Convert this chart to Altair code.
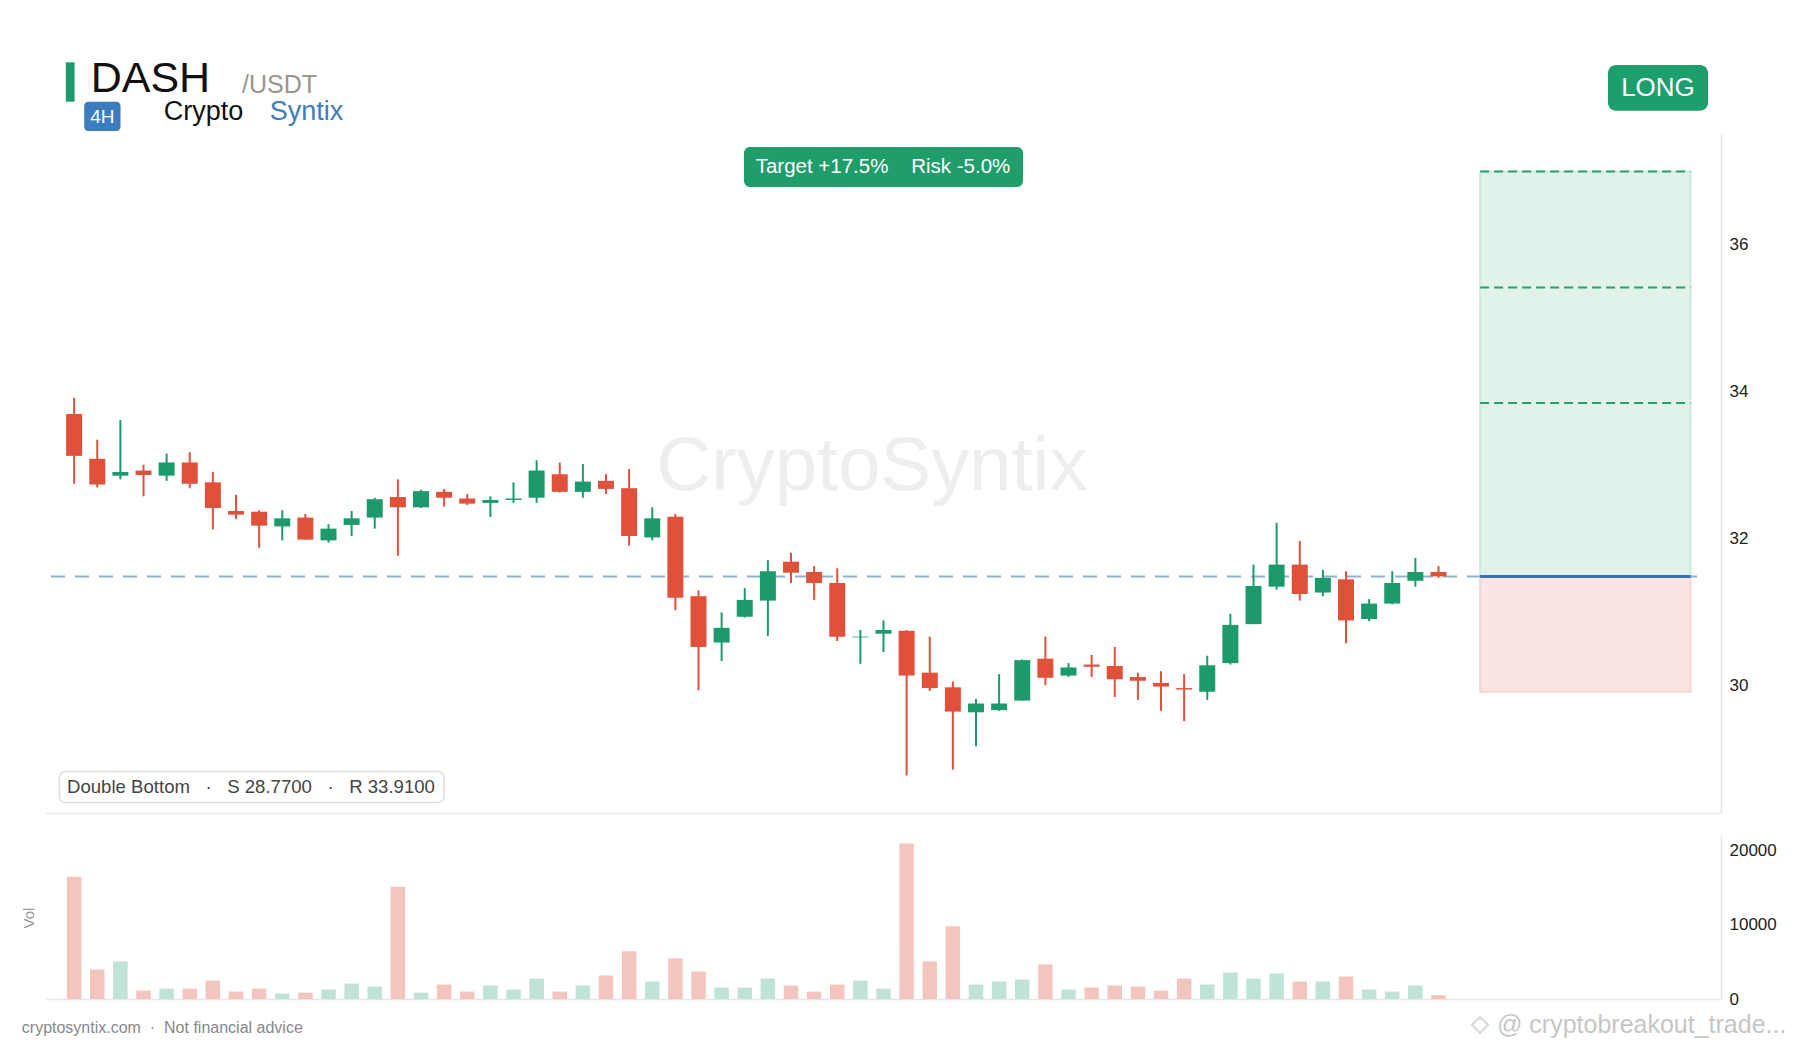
import altair as alt
import pandas as pd

# ---------------- data ----------------
opens = [33.69, 33.08, 32.85, 32.92, 32.85, 33.03, 32.76, 32.37, 32.36, 32.16,
         32.28, 31.97, 32.18, 32.28, 32.56, 32.42, 32.63, 32.54, 32.48, 32.52,
         32.55, 32.87, 32.63, 32.78, 32.68, 32.01, 32.29, 31.21, 30.58, 30.93,
         31.15, 31.68, 31.54, 31.39, 30.65, 30.70, 30.74, 30.17, 29.97, 29.63,
         29.66, 29.79, 30.36, 30.13, 30.28, 30.26, 30.11, 30.03, 29.96, 29.91,
         30.30, 30.83, 31.34, 31.64, 31.26, 31.44, 30.90, 31.11, 31.42, 31.54]
highs = [33.91, 33.34, 33.61, 33.00, 33.15, 33.17, 32.90, 32.59, 32.38, 32.38,
         32.33, 32.19, 32.37, 32.55, 32.80, 32.66, 32.67, 32.60, 32.57, 32.76,
         33.06, 33.03, 33.01, 32.87, 32.94, 32.42, 32.33, 31.29, 30.99, 31.32,
         31.70, 31.80, 31.62, 31.59, 30.75, 30.88, 30.75, 30.66, 30.05, 29.81,
         30.15, 30.35, 30.66, 30.30, 30.41, 30.52, 30.17, 30.19, 30.15, 30.40,
         30.97, 31.64, 32.21, 31.96, 31.57, 31.55, 31.17, 31.55, 31.73, 31.62]
lows = [32.74, 32.69, 32.80, 32.57, 32.78, 32.68, 32.12, 32.26, 31.87, 31.97,
        31.98, 31.94, 32.03, 32.13, 31.76, 32.41, 32.43, 32.45, 32.29, 32.48,
        32.48, 32.62, 32.55, 32.60, 31.90, 31.97, 31.02, 29.93, 30.33, 30.92,
        30.67, 31.39, 31.16, 30.60, 30.29, 30.45, 28.77, 29.92, 28.85, 29.17,
        29.65, 29.79, 30.00, 30.11, 30.11, 29.84, 29.80, 29.65, 29.51, 29.80,
        30.28, 30.83, 31.30, 31.15, 31.21, 30.57, 30.87, 31.10, 31.34, 31.46]
closes = [33.12, 32.73, 32.90, 32.86, 33.03, 32.74, 32.41, 32.32, 32.17, 32.27,
          31.98, 32.13, 32.27, 32.53, 32.42, 32.64, 32.55, 32.47, 32.52, 32.54,
          32.92, 32.63, 32.77, 32.67, 32.03, 32.27, 31.19, 30.52, 30.78, 31.16,
          31.55, 31.53, 31.39, 30.66, 30.66, 30.75, 30.13, 29.96, 29.64, 29.75,
          29.75, 30.34, 30.10, 30.24, 30.25, 30.08, 30.06, 29.98, 29.94, 30.27,
          30.82, 31.35, 31.64, 31.24, 31.46, 30.88, 31.11, 31.39, 31.54, 31.48]
volumes = [16470, 3980, 5070, 1130, 1400, 1400, 2490, 1000, 1400, 720,
           860, 1270, 2080, 1670, 15110, 860, 1950, 1000, 1810, 1270,
           2760, 1000, 1810, 3170, 6430, 2350, 5480, 3710, 1540, 1540,
           2760, 1810, 1000, 1950, 2490, 1400, 20950, 5070, 9820, 1950,
           2350, 2620, 4660, 1270, 1540, 1810, 1670, 1130, 2760, 1950,
           3570, 2760, 3440, 2350, 2350, 3030, 1270, 1000, 1810, 500]

entry_price = 31.48
stop_price = 29.91
target_prices = [33.84, 35.41, 36.99]   # TP1, TP2, final target
y_ticks_price = [30, 32, 34, 36]
y_ticks_vol = [0, 10000, 20000]

NB = "\u00a0"
symbol = "DASH"
quote = "/USDT"
timeframe = "4H"
side = "LONG"
target_text = "Target +17.5%" + NB * 4 + "Risk -5.0%"
pattern_text = ("Double Bottom" + NB * 3 + "\u00b7" + NB * 3 + "S 28.7700"
                + NB * 3 + "\u00b7" + NB * 3 + "R 33.9100")
footer_text = "cryptosyntix.com" + NB * 2 + "\u00b7" + NB * 2 + "Not financial advice"
credit_text = "@ cryptobreakout_trade..."

# ---------------- styling ----------------
FONT = "Liberation Sans"
GREEN = "#1c9a6b"
RED = "#e0513b"
VGREEN = "#bfe3d4"
VRED = "#f2c6be"
W = 1675
H_PRICE = 679
H_VOL = 164
X_DOM = [-1, 71]
ZX0, ZX1 = 60.8, 69.9

df = pd.DataFrame({"i": list(range(len(opens))), "o": opens, "h": highs,
                   "l": lows, "c": closes, "v": volumes})
df["dir"] = ["up" if c >= o else "down" for o, c in zip(opens, closes)]

xs = alt.Scale(domain=X_DOM, nice=False, zero=False)
ys = alt.Scale(domain=[28.26, 37.5], nice=False, zero=False)
vs = alt.Scale(domain=[0, 22100], nice=False)

x_axis = alt.Axis(labels=False, ticks=False, grid=False, title=None,
                  domainColor="#e6e6e6", domainWidth=1.5)
y_axis = alt.Axis(orient="right", values=y_ticks_price, format="d", ticks=False,
                  grid=False, title=None, labelPadding=8, labelFontSize=17,
                  labelColor="#222", labelFont=FONT, domainColor="#e6e6e6",
                  domainWidth=1.5)
v_axis = alt.Axis(orient="right", values=y_ticks_vol, format="d", ticks=False,
                  grid=False, title=None, labelPadding=8, labelFontSize=17,
                  labelColor="#222", labelFont=FONT, domainColor="#e6e6e6",
                  domainWidth=1.5)

one = pd.DataFrame({"k": [0]})
base1 = alt.Chart(one)

def txt(s, x, y, size, color, align="left", baseline="alphabetic", **kw):
    return base1.mark_text(text=s, font=FONT, fontSize=size, color=color,
                           align=align, baseline=baseline, **kw).encode(
        x=alt.value(x), y=alt.value(y))

def box(x0, x1, y0, y1, fill, radius=0, stroke=None, sw=0, opacity=1):
    kw = dict(fill=fill, cornerRadius=radius, opacity=opacity)
    if stroke:
        kw.update(stroke=stroke, strokeWidth=sw)
    return base1.mark_rect(**kw).encode(
        x=alt.value(x0), x2=alt.value(x1), y=alt.value(y0), y2=alt.value(y1))

# ---------------- price panel ----------------
anchor_top = box(-38, 1746, -126, 0, "#ffffff", opacity=0)

zones = pd.DataFrame({"x0": [ZX0, ZX0], "x1": [ZX1, ZX1],
                      "y0": [entry_price, stop_price],
                      "y1": [target_prices[-1], entry_price],
                      "kind": ["profit", "loss"]})
zone_layer = alt.Chart(zones).mark_rect(strokeWidth=2).encode(
    x=alt.X("x0:Q", scale=xs, axis=x_axis), x2="x1:Q",
    y=alt.Y("y0:Q", scale=ys, axis=y_axis), y2="y1:Q",
    fill=alt.Fill("kind:N", scale=alt.Scale(domain=["profit", "loss"],
                                            range=["#e0f2ea", "#fbe5e2"]), legend=None),
    stroke=alt.Stroke("kind:N", scale=alt.Scale(domain=["profit", "loss"],
                                                range=["#cfe9dd", "#f6d6d1"]), legend=None),
)

tp_df = pd.DataFrame({"tp": target_prices, "x0": ZX0, "x1": ZX1})
tp_layer = alt.Chart(tp_df).mark_rule(color="#2a9d6f", strokeWidth=2,
                                      strokeDash=[9, 5]).encode(
    x=alt.X("x0:Q", scale=xs), x2="x1:Q", y=alt.Y("tp:Q", scale=ys))

entry_df = pd.DataFrame({"e": [entry_price], "x0": [X_DOM[0]], "x1": [70.6],
                         "z0": [ZX0], "z1": [ZX1]})
entry_dash = alt.Chart(entry_df).mark_rule(color="#8fb1d4", strokeWidth=2,
                                           strokeDash=[14, 10]).encode(
    x=alt.X("x0:Q", scale=xs), x2="x1:Q", y=alt.Y("e:Q", scale=ys))
entry_solid = alt.Chart(entry_df).mark_rule(color="#3a6fb2", strokeWidth=3).encode(
    x=alt.X("z0:Q", scale=xs), x2="z1:Q", y=alt.Y("e:Q", scale=ys))

watermark = txt("CryptoSyntix", 826, 333, 76, "#eeeeee", align="center",
                baseline="middle")

color_dir = alt.Color("dir:N", scale=alt.Scale(domain=["up", "down"], range=[GREEN, RED]),
                      legend=None)
wicks = alt.Chart(df).mark_rule(strokeWidth=2).encode(
    x=alt.X("i:Q", scale=xs), y=alt.Y("l:Q", scale=ys), y2="h:Q", color=color_dir)
bodies = alt.Chart(df).mark_bar(size=16).encode(
    x=alt.X("i:Q", scale=xs), y=alt.Y("o:Q", scale=ys), y2="c:Q", color=color_dir)

target_box = box(698, 977, 13, 53, "#1f9d6b", radius=6)
target_lbl = txt(target_text, 837, 33, 20.5, "#ffffff", align="center", baseline="middle")

pattern_box = box(13.5, 398, 637.5, 668.5, "#ffffff", radius=6, stroke="#dddddd", sw=1.5)
pattern_lbl = txt(pattern_text, 21, 653, 18.6, "#444444", baseline="middle")

title_bar = box(19.8, 28.6, -71.7, -32.3, "#1e9b6c")
title_sym = txt(symbol, 44.7, -42, 43, "#111111")
title_quote = txt(quote, 196, -40.7, 25, "#9b958f")
tf_box = box(38.2, 74.5, -32.3, -3, "#3b7dbf", radius=4)
tf_lbl = txt(timeframe, 56.3, -17.5, 19, "#ffffff", align="center", baseline="middle")
brand1 = txt("Crypto", 117.8, -14, 27, "#111111")
brand2 = txt("Syntix", 223.8, -14, 27, "#3b7dbd")
long_box = box(1562, 1662, -69, -23.3, "#1e9e6c", radius=8)
long_lbl = txt(side, 1612, -46, 26, "#ffffff", align="center", baseline="middle")

price = alt.layer(
    anchor_top, zone_layer, watermark, tp_layer, entry_dash, entry_solid,
    wicks, bodies, target_box, target_lbl, pattern_box, pattern_lbl,
    title_bar, title_sym, title_quote, tf_box, tf_lbl, brand1, brand2,
    long_box, long_lbl,
).properties(width=W, height=H_PRICE)

# ---------------- volume panel ----------------
vol_bars = alt.Chart(df).mark_bar(size=14.5).encode(
    x=alt.X("i:Q", scale=xs, axis=x_axis),
    y=alt.Y("v:Q", scale=vs, axis=v_axis),
    color=alt.Color("dir:N", scale=alt.Scale(domain=["up", "down"], range=[VGREEN, VRED]),
                    legend=None),
)
vol_lbl = txt("Vol", -17.3, 83, 15, "#999999", align="center", baseline="middle",
              angle=270)
footer = txt(footer_text, -24.2, 193, 16, "#888888", baseline="middle")
credit = txt(credit_text, 1451, 190, 25, "#c6c6c6", baseline="middle")
credit_logo = base1.mark_point(shape="diamond", size=260, filled=False,
                               color="#c8c8c8", strokeWidth=2).encode(
    x=alt.value(1434), y=alt.value(190))
anchor_bot = box(-38, 1746, 0, 207, "#ffffff", opacity=0)

vol = alt.layer(anchor_bot, vol_bars, vol_lbl, footer, credit_logo, credit).properties(
    width=W, height=H_VOL)

chart = alt.vconcat(price, vol, spacing=22, bounds="flush").resolve_scale(
    color="independent", fill="independent", stroke="independent"
).properties(padding=0, background="#ffffff").configure_view(strokeWidth=0)

chart.save("out.html", embed_options={"renderer": "svg", "actions": False})
